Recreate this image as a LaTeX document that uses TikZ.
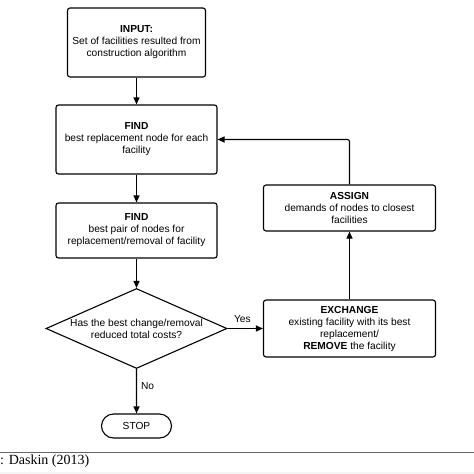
\documentclass[tikz,border=0pt]{standalone}
\usepackage{fontspec}
\setmainfont{Liberation Sans}
\newfontfamily\capfont{Liberation Serif}
\usetikzlibrary{arrows.meta,shapes.geometric,shapes.misc}
\tikzset{
  txt/.style={font=\fontsize{10.2}{12}\selectfont},
  flowbox/.style={draw, line width=1.1pt, rounded corners=2.5pt, align=center, inner sep=0pt, txt},
  decide/.style={draw, line width=1.1pt, diamond, aspect=2.26, inner sep=0pt, align=center, txt},
  term/.style={draw, line width=1.1pt, rounded rectangle, inner sep=0pt, txt},
  flow/.style={line width=1.1pt, -{Triangle[length=7pt,width=6pt]}, rounded corners=2pt},
  lbl/.style={inner sep=0pt, txt}
}
\begin{document}
\begin{tikzpicture}[x=1pt,y=-1pt]
\useasboundingbox (0,0) rectangle (474,474);
\fill[white] (0,0) rectangle (474,474);
\fill[gray!8] (0,471.5) rectangle (474,474);
\draw[gray!80!black, line width=1.4pt] (0,452.3) -- (474,452.3);
\node[anchor=west, inner sep=0pt, font=\capfont\fontsize{14}{16}\selectfont] (cap) at (0,461) {: Daskin (2013)};

\node[flowbox, minimum width=138pt, minimum height=69pt] (input) at (136.5,42.5)
  {\textbf{INPUT:}\\Set of facilities resulted from\\construction algorithm};
\node[flowbox, minimum width=161pt, minimum height=69pt] (find1) at (136.5,139.5)
  {\textbf{FIND}\\best replacement node for each\\facility};
\node[flowbox, minimum width=161pt, minimum height=55pt] (find2) at (136.5,230.5)
  {\textbf{FIND}\\best pair of nodes for\\replacement/removal of facility};
\node[decide, minimum width=181pt, minimum height=80pt] (dec) at (136.5,328.5)
  {Has the best change/removal\\reduced total costs?};
\node[term, minimum width=70pt, minimum height=24pt] (stop) at (136.5,426) {STOP};
\node[flowbox, minimum width=172pt, minimum height=57pt] (exch) at (349.5,328.5)
  {\textbf{EXCHANGE}\\existing facility with its best\\replacement/\\\textbf{REMOVE} the facility};
\node[flowbox, minimum width=172pt, minimum height=46pt] (assign) at (349.5,208)
  {\textbf{ASSIGN}\\demands of nodes to closest\\facilities};

\draw[flow] (input) -- (find1);
\draw[flow] (find1) -- (find2);
\draw[flow] (find2) -- (dec);
\draw[flow] (dec) -- node[lbl, pos=0.38, right=4pt] {No} (stop);
\draw[flow] (dec) -- node[lbl, pos=0.42, above=5pt] {Yes} (exch);
\draw[flow] (exch) -- (assign);
\draw[flow] (assign.north) |- (find1.east);
\end{tikzpicture}
\end{document}
